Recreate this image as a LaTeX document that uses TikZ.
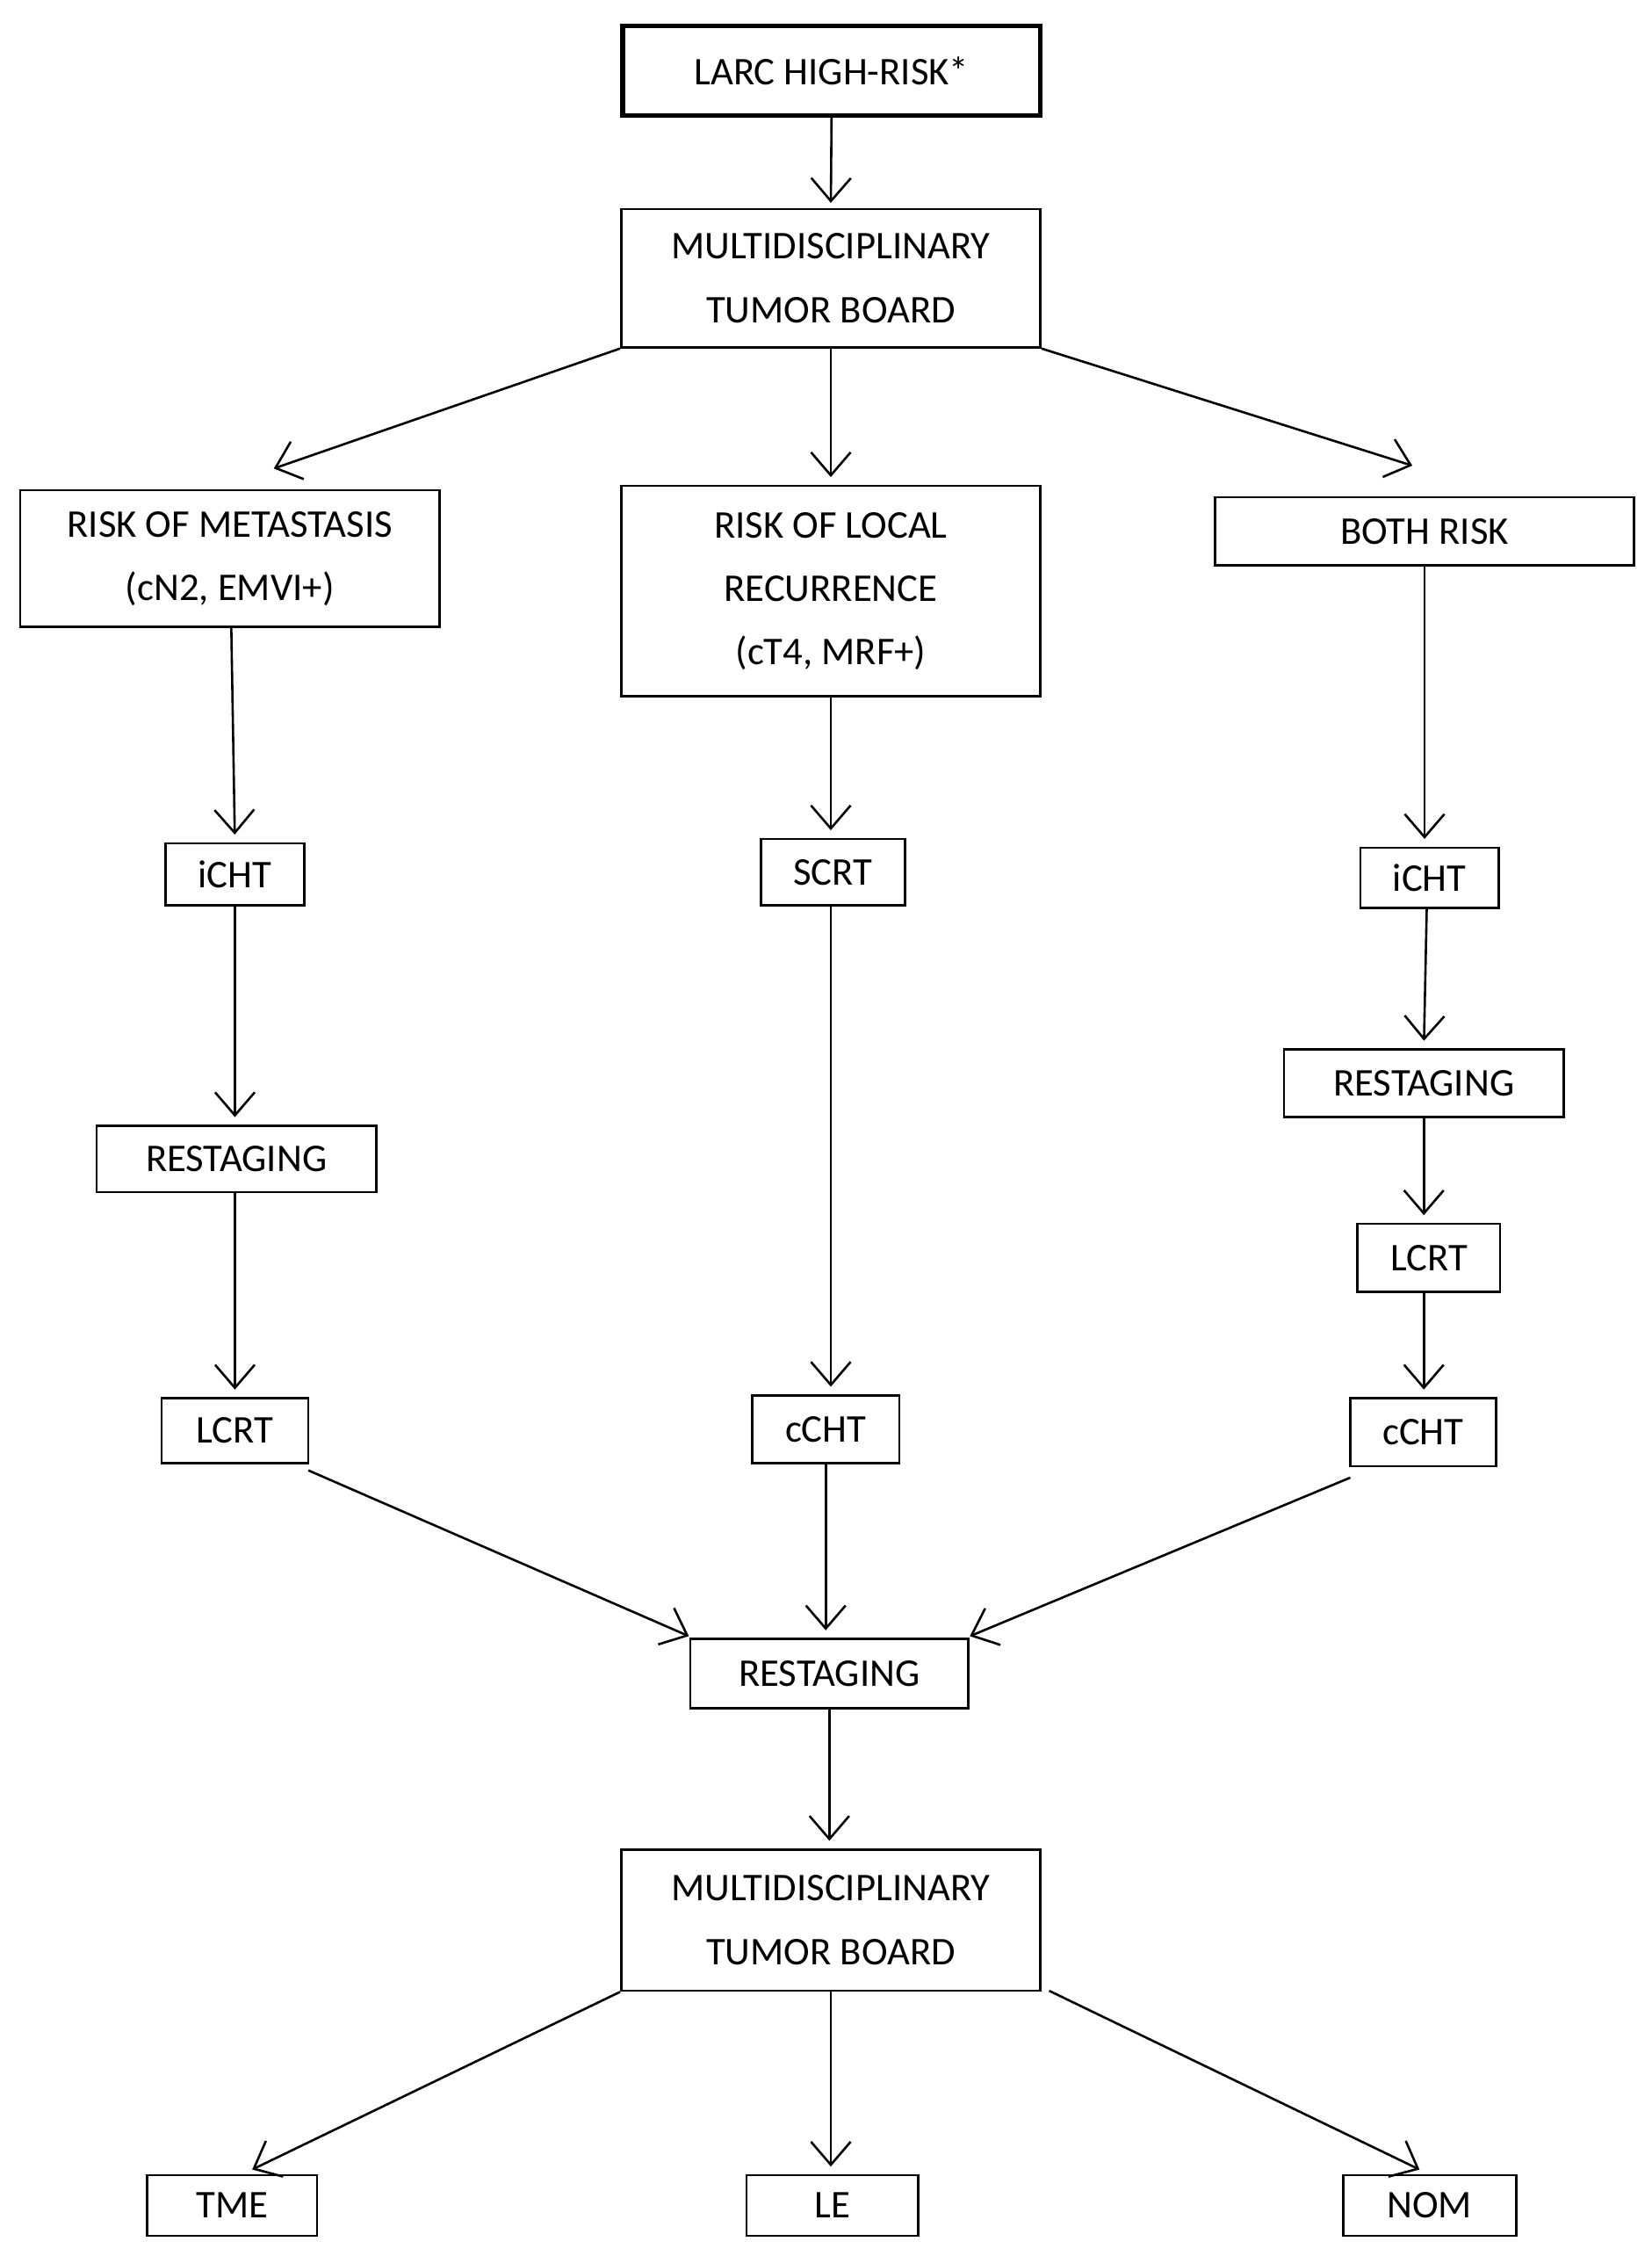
\documentclass[tikz,border=0pt]{standalone}
\usepackage{fontspec}
\setmainfont{Carlito}
\usetikzlibrary{arrows.meta,calc}
\begin{document}
\begin{tikzpicture}[x=0.02cm,y=-0.02cm,
  box/.style={draw,line width=0.9pt,align=center,inner sep=0pt,
    font=\fontsize{15.5}{25}\selectfont},
  to/.style={line width=0.9pt,-{Straight Barb[length=3.2mm,width=5.5mm,line width=0.9pt]}}]
  \useasboundingbox[fill=white] (0,0) rectangle (1146,1565);

  \node[box,line width=1.8pt,minimum width=5.8cm,minimum height=1.24cm] (larc) at (577,49) {LARC HIGH-RISK*};
  \node[box,minimum width=5.82cm,minimum height=1.92cm] (mtb1) at (576.5,193) {MULTIDISCIPLINARY\\TUMOR BOARD};
  \node[box,minimum width=5.82cm,minimum height=1.9cm] (meta) at (159.5,387.5) {RISK OF METASTASIS\\(cN2, EMVI+)};
  \node[box,minimum width=5.82cm,minimum height=2.92cm] (local) at (576.5,410) {RISK OF LOCAL\\RECURRENCE\\(cT4, MRF+)};
  \node[box,minimum width=5.82cm,minimum height=0.94cm] (both) at (988.5,368.5) {BOTH RISK};
  \node[box,minimum width=1.92cm,minimum height=0.86cm] (ichtl) at (163,606.5) {iCHT};
  \node[box,minimum width=2cm,minimum height=0.92cm] (scrt) at (578,605) {SCRT};
  \node[box,minimum width=1.92cm,minimum height=0.84cm] (ichtr) at (992,609) {iCHT};
  \node[box,minimum width=3.88cm,minimum height=0.92cm] (restl) at (164,804) {RESTAGING};
  \node[box,minimum width=3.88cm,minimum height=0.94cm] (restr) at (988,751.5) {RESTAGING};
  \node[box,minimum width=1.98cm,minimum height=0.94cm] (lcrtr) at (991.5,872.5) {LCRT};
  \node[box,minimum width=2.04cm,minimum height=0.9cm] (lcrtl) at (163,992.5) {LCRT};
  \node[box,minimum width=2.04cm,minimum height=0.94cm] (cchtm) at (573,991.5) {cCHT};
  \node[box,minimum width=2.02cm,minimum height=0.94cm] (cchtr) at (987.5,993.5) {cCHT};
  \node[box,minimum width=3.86cm,minimum height=0.96cm] (restc) at (575.5,1161) {RESTAGING};
  \node[box,minimum width=5.82cm,minimum height=1.96cm] (mtb2) at (576.5,1332) {MULTIDISCIPLINARY\\TUMOR BOARD};
  \node[box,minimum width=2.36cm,minimum height=0.84cm] (tme) at (161,1530) {TME};
  \node[box,minimum width=2.38cm,minimum height=0.84cm] (le) at (577.5,1530) {LE};
  \node[box,minimum width=2.4cm,minimum height=0.84cm] (nom) at (992,1530) {NOM};

  \coordinate (m1l) at (190,325);
  \coordinate (m1r) at (980,323);
  \coordinate (rcl) at (478,1135);
  \coordinate (rcr) at (673,1135);
  \coordinate (m2l) at (175,1505);
  \coordinate (m2r) at (985,1505);
  \coordinate (lcrtlo) at (214,1020);
  \coordinate (cchtro) at (937,1025);
  \coordinate (m2ro) at (728,1381);

  \draw[to,shorten >=2pt] (larc.south) -- (mtb1.north);
  \draw[to] (mtb1.south west) -- (m1l);
  \draw[to,shorten >=3pt] (mtb1.south) -- (local.north);
  \draw[to] (mtb1.south east) -- (m1r);
  \draw[to,shorten >=3pt] (meta.south) ++(1,0) -- (ichtl.north);
  \draw[to,shorten >=3pt] (local.south) -- (scrt.north -| local.south);
  \draw[to,shorten >=3pt] (both.south) -- (ichtr.north -| both.south);
  \draw[to,shorten >=3pt] (ichtl.south) -- (restl.north -| ichtl.south);
  \draw[to,shorten >=3pt] (scrt.south -| local.south) -- (cchtm.north -| local.south);
  \draw[to,shorten >=3pt] (ichtr.south -| restr.north) ++(2,0) -- (restr.north);
  \draw[to,shorten >=3pt] (restl.south -| ichtl.south) -- (lcrtl.north);
  \draw[to,shorten >=3pt] (restr.south) -- (lcrtr.north -| restr.south);
  \draw[to,shorten >=3pt] (lcrtr.south -| restr.south) -- (cchtr.north -| restr.south);
  \draw[to] (lcrtlo) -- (rcl);
  \draw[to,shorten >=3pt] (cchtm.south) -- (restc.north -| cchtm.south);
  \draw[to] (cchtro) -- (rcr);
  \draw[to,shorten >=3pt] (restc.south) -- (mtb2.north -| restc.south);
  \draw[to] (mtb2.south west) -- (m2l);
  \draw[to,shorten >=3pt] (mtb2.south) -- (le.north -| mtb2.south);
  \draw[to] (m2ro) -- (m2r);
\end{tikzpicture}
\end{document}
